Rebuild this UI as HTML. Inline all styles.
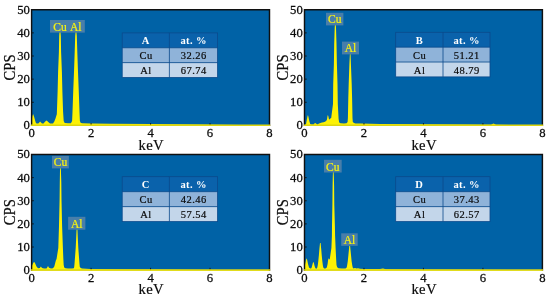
<!DOCTYPE html>
<html><head><meta charset="utf-8"><title>EDS spectra</title>
<style>
html,body{margin:0;padding:0;background:#fff;}
body{width:550px;height:299px;overflow:hidden;}
svg{display:block;}
text{font-family:"Liberation Serif",serif;}
.tk{font-size:12.7px;fill:#0c0c0c;stroke:#0c0c0c;stroke-width:0.25px;}
.ax{font-size:14.7px;fill:#0c0c0c;letter-spacing:0.35px;stroke:#0c0c0c;stroke-width:0.2px;}
.ax2{font-size:14.6px;fill:#0c0c0c;letter-spacing:0.1px;stroke:#0c0c0c;stroke-width:0.2px;}
.pk{font-size:12.4px;fill:#f6f212;word-spacing:1.2px;stroke:#f6f212;stroke-width:0.25px;}
.th{font-size:10.5px;font-weight:bold;fill:#fff;letter-spacing:0.4px;}
.td{font-size:10.5px;fill:#0a0a0a;letter-spacing:0.5px;stroke:#0a0a0a;stroke-width:0.2px;}
</style></head><body>
<svg width="550" height="299" viewBox="0 0 550 299">
<rect width="550" height="299" fill="#fff"/>
<rect x="31.6" y="9.75" width="237.9" height="115.65" fill="#0062a6"/>
<polygon points="31.6,125.9 31.6,122.0 32.3,116.0 33.1,114.1 34.0,116.5 35.7,122.5 36.5,123.4 38.3,123.4 39.3,122.4 40.1,121.4 41.0,122.4 42.0,123.5 43.5,123.5 44.8,122.0 46.3,120.6 47.5,121.2 48.8,122.5 50.0,123.4 53.0,123.4 54.3,121.5 55.5,118.5 56.4,115.5 56.8,114.3 56.9,112.0 57.6,92.0 58.1,72.0 58.9,52.0 59.2,36.0 59.6,31.0 60.4,31.0 60.8,36.0 61.1,52.0 61.9,72.0 62.4,92.0 63.1,112.0 63.7,121.0 64.7,123.0 68.0,123.2 70.9,123.2 72.1,121.0 72.5,112.0 73.2,92.0 74.0,72.0 74.7,52.0 75.2,36.0 75.7,31.0 76.3,31.0 76.8,36.0 77.3,52.0 78.0,72.0 78.8,92.0 79.5,112.0 79.9,121.0 80.6,122.8 82.0,123.2 90.0,123.5 110.0,123.8 150.0,124.1 200.0,124.5 240.0,124.9 269.5,125.1 269.5,125.9" fill="#fcf205"/>
<text transform="translate(29.90,129.30) scale(1,1.05)" text-anchor="end" class="tk">0</text>
<line x1="31.6" y1="102.27" x2="33.80" y2="102.27" stroke="#111" stroke-width="0.9"/>
<text transform="translate(29.90,106.17) scale(1,1.05)" text-anchor="end" class="tk">10</text>
<line x1="31.6" y1="79.14" x2="33.80" y2="79.14" stroke="#111" stroke-width="0.9"/>
<text transform="translate(29.90,83.04) scale(1,1.05)" text-anchor="end" class="tk">20</text>
<line x1="31.6" y1="56.01" x2="33.80" y2="56.01" stroke="#111" stroke-width="0.9"/>
<text transform="translate(29.90,59.91) scale(1,1.05)" text-anchor="end" class="tk">30</text>
<line x1="31.6" y1="32.88" x2="33.80" y2="32.88" stroke="#111" stroke-width="0.9"/>
<text transform="translate(29.90,36.78) scale(1,1.05)" text-anchor="end" class="tk">40</text>
<text transform="translate(29.90,13.65) scale(1,1.05)" text-anchor="end" class="tk">50</text>
<text transform="translate(31.60,137.00) scale(1,1.05)" text-anchor="middle" class="tk">0</text>
<line x1="91.08" y1="125.4" x2="91.08" y2="123.10" stroke="#111" stroke-width="0.9"/>
<text transform="translate(91.08,137.00) scale(1,1.05)" text-anchor="middle" class="tk">2</text>
<line x1="150.55" y1="125.4" x2="150.55" y2="123.10" stroke="#111" stroke-width="0.9"/>
<text transform="translate(150.55,137.00) scale(1,1.05)" text-anchor="middle" class="tk">4</text>
<line x1="210.03" y1="125.4" x2="210.03" y2="123.10" stroke="#111" stroke-width="0.9"/>
<text transform="translate(210.03,137.00) scale(1,1.05)" text-anchor="middle" class="tk">6</text>
<text transform="translate(269.50,137.00) scale(1,1.05)" text-anchor="middle" class="tk">8</text>
<path d="M31.6,125.9 V9.75 H269.5 V125.9" fill="none" stroke="#101010" stroke-width="1.45"/>
<line x1="30.90" y1="125.25" x2="270.20" y2="125.25" stroke="#dcd610" stroke-width="1.5"/>
<text transform="translate(151.25,149.70) scale(1,1.03)" text-anchor="middle" class="ax">keV</text>
<text transform="translate(14.60,67.38) rotate(-90) scale(1,1.12)" text-anchor="middle" class="ax2">CPS</text>
<rect x="50" y="20" width="34.80" height="12.60" fill="#487eaa"/>
<text transform="translate(67.40,30.60) scale(0.93,1)" text-anchor="middle" class="pk">Cu Al</text>
<rect x="122.2" y="32.9" width="95.40" height="14.87" fill="#0a62ab"/>
<rect x="122.2" y="47.77" width="95.40" height="14.87" fill="#8fb3d9"/>
<rect x="122.2" y="62.63" width="95.40" height="14.87" fill="#c3d6ea"/>
<rect x="122.2" y="32.9" width="95.40" height="44.60" fill="none" stroke="#0a4a8c" stroke-width="0.8"/>
<line x1="169.4" y1="32.9" x2="169.4" y2="77.5" stroke="#0a4a8c" stroke-width="0.8"/>
<line x1="122.2" y1="47.77" x2="217.6" y2="47.77" stroke="#0a4a8c" stroke-width="0.8"/>
<line x1="122.2" y1="62.63" x2="217.6" y2="62.63" stroke="#0a4a8c" stroke-width="0.8"/>
<text transform="translate(145.80,44.37)" text-anchor="middle" class="th">A</text>
<text transform="translate(193.70,44.37)" text-anchor="middle" class="th">at. %</text>
<text transform="translate(146.00,59.23)" text-anchor="middle" class="td">Cu</text>
<text transform="translate(193.70,59.23)" text-anchor="middle" class="td">32.26</text>
<text transform="translate(146.00,74.10)" text-anchor="middle" class="td">Al</text>
<text transform="translate(193.70,74.10)" text-anchor="middle" class="td">67.74</text>
<rect x="304.5" y="9.75" width="237.9" height="115.65" fill="#0062a6"/>
<polygon points="304.5,125.9 304.5,124.8 306.0,124.2 306.8,120.0 307.6,115.8 308.0,115.2 308.5,117.0 309.3,121.0 310.2,124.0 311.5,124.5 313.6,124.4 314.4,123.6 315.1,123.0 316.0,123.6 317.3,124.4 319.1,123.6 320.5,123.0 322.0,122.4 323.5,122.3 325.0,121.7 326.3,120.8 327.0,119.5 327.5,116.0 327.9,114.9 328.4,116.5 329.0,119.2 329.5,119.5 330.3,118.6 331.2,117.9 333.0,104.0 333.2,84.0 333.9,64.0 334.2,44.0 334.7,28.0 335.0,24.0 335.7,24.0 336.0,28.0 336.5,44.0 336.9,64.0 337.5,84.0 337.8,104.0 338.6,119.0 339.2,122.6 340.5,123.3 344.0,123.4 346.5,123.3 347.6,122.0 347.9,118.0 348.3,98.0 348.7,84.0 349.4,64.0 349.8,56.0 349.9,54.0 350.5,54.0 350.6,56.0 350.9,64.0 351.7,84.0 352.1,98.0 352.5,118.0 352.8,122.0 354.0,123.0 355.5,123.4 360.0,123.6 380.0,123.9 420.0,124.2 460.0,124.6 491.0,124.8 493.5,123.6 496.0,124.8 520.0,125.0 543.0,125.2 542.4,125.9" fill="#fcf205"/>
<text transform="translate(302.80,129.30) scale(1,1.05)" text-anchor="end" class="tk">0</text>
<line x1="304.5" y1="102.27" x2="306.70" y2="102.27" stroke="#111" stroke-width="0.9"/>
<text transform="translate(302.80,106.17) scale(1,1.05)" text-anchor="end" class="tk">10</text>
<line x1="304.5" y1="79.14" x2="306.70" y2="79.14" stroke="#111" stroke-width="0.9"/>
<text transform="translate(302.80,83.04) scale(1,1.05)" text-anchor="end" class="tk">20</text>
<line x1="304.5" y1="56.01" x2="306.70" y2="56.01" stroke="#111" stroke-width="0.9"/>
<text transform="translate(302.80,59.91) scale(1,1.05)" text-anchor="end" class="tk">30</text>
<line x1="304.5" y1="32.88" x2="306.70" y2="32.88" stroke="#111" stroke-width="0.9"/>
<text transform="translate(302.80,36.78) scale(1,1.05)" text-anchor="end" class="tk">40</text>
<text transform="translate(302.80,13.65) scale(1,1.05)" text-anchor="end" class="tk">50</text>
<text transform="translate(304.50,137.00) scale(1,1.05)" text-anchor="middle" class="tk">0</text>
<line x1="363.98" y1="125.4" x2="363.98" y2="123.10" stroke="#111" stroke-width="0.9"/>
<text transform="translate(363.98,137.00) scale(1,1.05)" text-anchor="middle" class="tk">2</text>
<line x1="423.45" y1="125.4" x2="423.45" y2="123.10" stroke="#111" stroke-width="0.9"/>
<text transform="translate(423.45,137.00) scale(1,1.05)" text-anchor="middle" class="tk">4</text>
<line x1="482.93" y1="125.4" x2="482.93" y2="123.10" stroke="#111" stroke-width="0.9"/>
<text transform="translate(482.93,137.00) scale(1,1.05)" text-anchor="middle" class="tk">6</text>
<text transform="translate(542.40,137.00) scale(1,1.05)" text-anchor="middle" class="tk">8</text>
<path d="M304.5,125.9 V9.75 H542.4 V125.9" fill="none" stroke="#101010" stroke-width="1.45"/>
<line x1="303.80" y1="125.25" x2="543.10" y2="125.25" stroke="#dcd610" stroke-width="1.5"/>
<text transform="translate(424.15,149.70) scale(1,1.03)" text-anchor="middle" class="ax">keV</text>
<text transform="translate(287.50,67.38) rotate(-90) scale(1,1.12)" text-anchor="middle" class="ax2">CPS</text>
<rect x="326" y="12.8" width="17.40" height="12.60" fill="#487eaa"/>
<text transform="translate(334.70,23.40) scale(0.93,1)" text-anchor="middle" class="pk">Cu</text>
<rect x="342" y="41.6" width="17.00" height="12.80" fill="#487eaa"/>
<text transform="translate(350.50,52.40) scale(0.93,1)" text-anchor="middle" class="pk">Al</text>
<rect x="395.7" y="32.3" width="94.30" height="14.87" fill="#0a62ab"/>
<rect x="395.7" y="47.17" width="94.30" height="14.87" fill="#8fb3d9"/>
<rect x="395.7" y="62.03" width="94.30" height="14.87" fill="#c3d6ea"/>
<rect x="395.7" y="32.3" width="94.30" height="44.60" fill="none" stroke="#0a4a8c" stroke-width="0.8"/>
<line x1="443" y1="32.3" x2="443" y2="76.9" stroke="#0a4a8c" stroke-width="0.8"/>
<line x1="395.7" y1="47.17" x2="490" y2="47.17" stroke="#0a4a8c" stroke-width="0.8"/>
<line x1="395.7" y1="62.03" x2="490" y2="62.03" stroke="#0a4a8c" stroke-width="0.8"/>
<text transform="translate(419.35,43.77)" text-anchor="middle" class="th">B</text>
<text transform="translate(466.70,43.77)" text-anchor="middle" class="th">at. %</text>
<text transform="translate(419.55,58.63)" text-anchor="middle" class="td">Cu</text>
<text transform="translate(466.70,58.63)" text-anchor="middle" class="td">51.21</text>
<text transform="translate(419.55,73.50)" text-anchor="middle" class="td">Al</text>
<text transform="translate(466.70,73.50)" text-anchor="middle" class="td">48.79</text>
<rect x="31.6" y="154.5" width="237.9" height="115.65" fill="#0062a6"/>
<polygon points="31.6,270.65 31.5,267.0 32.5,264.5 33.5,262.5 34.3,262.0 35.2,263.5 36.5,266.5 38.0,268.3 39.8,268.0 40.9,266.5 42.0,268.0 44.0,268.6 46.5,268.4 47.2,267.5 48.0,266.0 49.0,267.8 51.0,268.4 53.0,268.2 54.3,266.5 55.2,263.0 56.0,260.0 56.5,259.3 58.3,248.0 59.0,226.0 59.6,200.0 59.8,182.0 60.0,170.0 60.2,167.0 60.7,167.0 60.9,170.0 61.3,182.0 61.5,200.0 62.1,226.0 62.9,248.0 63.3,258.0 63.7,265.0 64.2,267.5 65.5,268.2 68.0,268.4 72.0,268.4 73.8,268.2 74.2,267.0 74.5,264.0 75.1,256.0 75.7,248.0 76.2,238.0 76.5,231.0 76.7,228.5 77.3,228.5 77.5,231.0 77.8,238.0 78.3,248.0 78.9,256.0 79.5,264.0 79.8,267.0 80.8,268.0 82.0,268.6 90.0,268.9 120.0,269.2 160.0,269.5 220.0,269.9 269.5,270.1 269.5,270.65" fill="#fcf205"/>
<text transform="translate(29.90,274.05) scale(1,1.05)" text-anchor="end" class="tk">0</text>
<line x1="31.6" y1="247.02" x2="33.80" y2="247.02" stroke="#111" stroke-width="0.9"/>
<text transform="translate(29.90,250.92) scale(1,1.05)" text-anchor="end" class="tk">10</text>
<line x1="31.6" y1="223.89" x2="33.80" y2="223.89" stroke="#111" stroke-width="0.9"/>
<text transform="translate(29.90,227.79) scale(1,1.05)" text-anchor="end" class="tk">20</text>
<line x1="31.6" y1="200.76" x2="33.80" y2="200.76" stroke="#111" stroke-width="0.9"/>
<text transform="translate(29.90,204.66) scale(1,1.05)" text-anchor="end" class="tk">30</text>
<line x1="31.6" y1="177.63" x2="33.80" y2="177.63" stroke="#111" stroke-width="0.9"/>
<text transform="translate(29.90,181.53) scale(1,1.05)" text-anchor="end" class="tk">40</text>
<text transform="translate(29.90,158.40) scale(1,1.05)" text-anchor="end" class="tk">50</text>
<text transform="translate(31.60,281.75) scale(1,1.05)" text-anchor="middle" class="tk">0</text>
<line x1="91.08" y1="270.15" x2="91.08" y2="267.85" stroke="#111" stroke-width="0.9"/>
<text transform="translate(91.08,281.75) scale(1,1.05)" text-anchor="middle" class="tk">2</text>
<line x1="150.55" y1="270.15" x2="150.55" y2="267.85" stroke="#111" stroke-width="0.9"/>
<text transform="translate(150.55,281.75) scale(1,1.05)" text-anchor="middle" class="tk">4</text>
<line x1="210.03" y1="270.15" x2="210.03" y2="267.85" stroke="#111" stroke-width="0.9"/>
<text transform="translate(210.03,281.75) scale(1,1.05)" text-anchor="middle" class="tk">6</text>
<text transform="translate(269.50,281.75) scale(1,1.05)" text-anchor="middle" class="tk">8</text>
<path d="M31.6,270.65 V154.5 H269.5 V270.65" fill="none" stroke="#101010" stroke-width="1.45"/>
<line x1="30.90" y1="270.00" x2="270.20" y2="270.00" stroke="#dcd610" stroke-width="1.5"/>
<text transform="translate(151.25,294.45) scale(1,1.03)" text-anchor="middle" class="ax">keV</text>
<text transform="translate(14.60,212.12) rotate(-90) scale(1,1.12)" text-anchor="middle" class="ax2">CPS</text>
<rect x="52" y="155.9" width="16.90" height="12.50" fill="#487eaa"/>
<text transform="translate(60.45,166.40) scale(0.93,1)" text-anchor="middle" class="pk">Cu</text>
<rect x="68.1" y="216.8" width="17.30" height="12.90" fill="#487eaa"/>
<text transform="translate(76.75,227.70) scale(0.93,1)" text-anchor="middle" class="pk">Al</text>
<rect x="122.2" y="176.7" width="95.40" height="14.97" fill="#0a62ab"/>
<rect x="122.2" y="191.67" width="95.40" height="14.97" fill="#8fb3d9"/>
<rect x="122.2" y="206.63" width="95.40" height="14.97" fill="#c3d6ea"/>
<rect x="122.2" y="176.7" width="95.40" height="44.90" fill="none" stroke="#0a4a8c" stroke-width="0.8"/>
<line x1="169.4" y1="176.7" x2="169.4" y2="221.6" stroke="#0a4a8c" stroke-width="0.8"/>
<line x1="122.2" y1="191.67" x2="217.6" y2="191.67" stroke="#0a4a8c" stroke-width="0.8"/>
<line x1="122.2" y1="206.63" x2="217.6" y2="206.63" stroke="#0a4a8c" stroke-width="0.8"/>
<text transform="translate(145.80,188.27)" text-anchor="middle" class="th">C</text>
<text transform="translate(193.70,188.27)" text-anchor="middle" class="th">at. %</text>
<text transform="translate(146.00,203.23)" text-anchor="middle" class="td">Cu</text>
<text transform="translate(193.70,203.23)" text-anchor="middle" class="td">42.46</text>
<text transform="translate(146.00,218.20)" text-anchor="middle" class="td">Al</text>
<text transform="translate(193.70,218.20)" text-anchor="middle" class="td">57.54</text>
<rect x="304.5" y="154.5" width="237.9" height="115.65" fill="#0062a6"/>
<polygon points="304.5,270.65 304.5,268.0 305.2,264.0 306.0,260.0 306.6,258.3 307.2,260.0 308.0,264.0 309.0,267.5 310.2,268.6 311.4,268.2 312.2,265.5 313.0,262.5 313.4,261.9 313.9,263.0 314.6,266.0 315.4,268.2 316.5,268.7 317.3,267.5 317.8,265.0 318.3,261.0 318.9,255.0 319.4,249.0 320.0,243.0 320.6,243.0 321.2,249.0 321.7,255.0 322.3,261.0 322.8,265.0 323.3,267.5 324.2,268.4 325.5,268.4 326.8,267.5 327.6,264.0 328.1,260.0 328.7,258.3 329.3,259.5 329.8,259.0 331.4,248.0 331.9,236.0 332.0,226.0 332.4,205.0 332.6,186.0 332.8,176.0 333.0,171.0 333.5,171.0 333.8,176.0 334.1,186.0 334.3,205.0 334.9,226.0 335.1,236.0 335.6,248.0 336.1,258.0 336.5,265.0 337.2,267.3 338.5,268.2 342.0,268.4 345.5,268.4 346.7,267.5 347.2,265.0 347.8,261.0 348.4,255.0 348.9,250.0 349.3,246.0 350.1,246.0 350.5,250.0 351.0,255.0 351.6,261.0 352.2,265.0 352.7,267.5 353.5,268.4 355.0,268.1 356.5,268.5 358.0,268.2 360.0,268.8 364.0,269.0 380.0,269.1 383.0,268.4 386.0,269.2 420.0,269.4 470.0,269.8 543.0,270.2 542.4,270.65" fill="#fcf205"/>
<text transform="translate(302.80,274.05) scale(1,1.05)" text-anchor="end" class="tk">0</text>
<line x1="304.5" y1="247.02" x2="306.70" y2="247.02" stroke="#111" stroke-width="0.9"/>
<text transform="translate(302.80,250.92) scale(1,1.05)" text-anchor="end" class="tk">10</text>
<line x1="304.5" y1="223.89" x2="306.70" y2="223.89" stroke="#111" stroke-width="0.9"/>
<text transform="translate(302.80,227.79) scale(1,1.05)" text-anchor="end" class="tk">20</text>
<line x1="304.5" y1="200.76" x2="306.70" y2="200.76" stroke="#111" stroke-width="0.9"/>
<text transform="translate(302.80,204.66) scale(1,1.05)" text-anchor="end" class="tk">30</text>
<line x1="304.5" y1="177.63" x2="306.70" y2="177.63" stroke="#111" stroke-width="0.9"/>
<text transform="translate(302.80,181.53) scale(1,1.05)" text-anchor="end" class="tk">40</text>
<text transform="translate(302.80,158.40) scale(1,1.05)" text-anchor="end" class="tk">50</text>
<text transform="translate(304.50,281.75) scale(1,1.05)" text-anchor="middle" class="tk">0</text>
<line x1="363.98" y1="270.15" x2="363.98" y2="267.85" stroke="#111" stroke-width="0.9"/>
<text transform="translate(363.98,281.75) scale(1,1.05)" text-anchor="middle" class="tk">2</text>
<line x1="423.45" y1="270.15" x2="423.45" y2="267.85" stroke="#111" stroke-width="0.9"/>
<text transform="translate(423.45,281.75) scale(1,1.05)" text-anchor="middle" class="tk">4</text>
<line x1="482.93" y1="270.15" x2="482.93" y2="267.85" stroke="#111" stroke-width="0.9"/>
<text transform="translate(482.93,281.75) scale(1,1.05)" text-anchor="middle" class="tk">6</text>
<text transform="translate(542.40,281.75) scale(1,1.05)" text-anchor="middle" class="tk">8</text>
<path d="M304.5,270.65 V154.5 H542.4 V270.65" fill="none" stroke="#101010" stroke-width="1.45"/>
<line x1="303.80" y1="270.00" x2="543.10" y2="270.00" stroke="#dcd610" stroke-width="1.5"/>
<text transform="translate(424.15,294.45) scale(1,1.03)" text-anchor="middle" class="ax">keV</text>
<text transform="translate(287.50,212.12) rotate(-90) scale(1,1.12)" text-anchor="middle" class="ax2">CPS</text>
<rect x="324" y="159.8" width="17.70" height="12.70" fill="#487eaa"/>
<text transform="translate(332.85,170.50) scale(0.93,1)" text-anchor="middle" class="pk">Cu</text>
<rect x="341.2" y="233.3" width="16.50" height="12.50" fill="#487eaa"/>
<text transform="translate(349.45,243.80) scale(0.93,1)" text-anchor="middle" class="pk">Al</text>
<rect x="395.7" y="176.7" width="94.30" height="14.97" fill="#0a62ab"/>
<rect x="395.7" y="191.67" width="94.30" height="14.97" fill="#8fb3d9"/>
<rect x="395.7" y="206.63" width="94.30" height="14.97" fill="#c3d6ea"/>
<rect x="395.7" y="176.7" width="94.30" height="44.90" fill="none" stroke="#0a4a8c" stroke-width="0.8"/>
<line x1="443" y1="176.7" x2="443" y2="221.6" stroke="#0a4a8c" stroke-width="0.8"/>
<line x1="395.7" y1="191.67" x2="490" y2="191.67" stroke="#0a4a8c" stroke-width="0.8"/>
<line x1="395.7" y1="206.63" x2="490" y2="206.63" stroke="#0a4a8c" stroke-width="0.8"/>
<text transform="translate(419.35,188.27)" text-anchor="middle" class="th">D</text>
<text transform="translate(466.70,188.27)" text-anchor="middle" class="th">at. %</text>
<text transform="translate(419.55,203.23)" text-anchor="middle" class="td">Cu</text>
<text transform="translate(466.70,203.23)" text-anchor="middle" class="td">37.43</text>
<text transform="translate(419.55,218.20)" text-anchor="middle" class="td">Al</text>
<text transform="translate(466.70,218.20)" text-anchor="middle" class="td">62.57</text>
</svg>
</body></html>
